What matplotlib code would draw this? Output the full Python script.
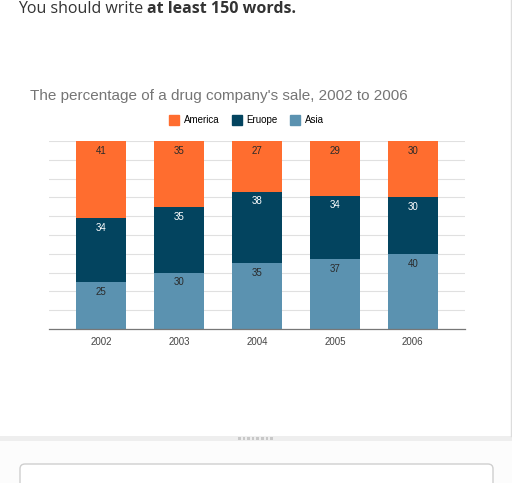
import matplotlib.pyplot as plt
import numpy as np
from matplotlib.patches import Rectangle, FancyBboxPatch
from matplotlib.lines import Line2D

years = ['2002', '2003', '2004', '2005', '2006']
asia = [25, 30, 35, 37, 40]
europe = [34, 35, 38, 34, 30]
america = [41, 35, 27, 29, 30]

c_america = '#ff6d2f'
c_europe = '#03445f'
c_asia = '#5b92b0'

W, H = 512, 483
fig = plt.figure(figsize=(W / 100, H / 100), dpi=100)
fig.patch.set_facecolor('white')

def fx(px):
    return px / W

def fy(py):
    return 1 - py / H

# page header, normal + bold parts
t1 = fig.text(fx(18), fy(12.7), 'You should write ', fontsize=11.5, family='Open Sans',
              color='#333333', va='baseline', ha='left')
fig.canvas.draw()
bb = t1.get_window_extent()
fig.text(bb.x1 / W, fy(12.7), 'at least 150 words.', fontsize=11.5, family='Open Sans',
         weight='bold', color='#333333', va='baseline', ha='left')

# chart title
fig.text(fx(30), fy(96), "The percentage of a drug company's sale, 2002 to 2006",
         fontsize=11, family='Liberation Sans', color='#757575', va='center', ha='left')

ax = fig.add_axes([fx(49), fy(329), fx(465) - fx(49), (329 - 141) / H])
x = np.arange(len(years))
w = 0.64
ax.bar(x, asia, w, color=c_asia, zorder=2)
ax.bar(x, europe, w, bottom=asia, color=c_europe, zorder=2)
bottom3 = np.array(asia) + np.array(europe)
ax.bar(x, america, w, bottom=bottom3, color=c_america, zorder=2)

tops_asia = np.array(asia)
tops_eu = bottom3
tops_am = bottom3 + np.array(america)
lab = dict(textcoords='offset points', ha='center', va='center', fontsize=7, family='Liberation Sans')
for i in range(len(years)):
    ax.annotate(str(asia[i]), (x[i], tops_asia[i]), xytext=(0, -7), color='#2a2a2a', **lab)
    ax.annotate(str(europe[i]), (x[i], tops_eu[i]), xytext=(0, -7), color='#ffffff', **lab)
    ax.annotate(str(america[i]), (x[i], tops_am[i]), xytext=(0, -7), color='#2a2a2a', **lab)

ax.set_xlim(-0.67, 4.67)
ax.set_ylim(0, 100)
ax.set_yticks(np.arange(0, 101, 10))
ax.yaxis.grid(True, color='#e0e0e0', linewidth=0.8, zorder=0)
ax.set_yticklabels([])
ax.tick_params(axis='y', length=0)
ax.set_xticks(x)
ax.set_xticklabels(years, fontsize=7, color='#444444', family='Liberation Sans')
ax.tick_params(axis='x', length=0, pad=5.5)
for s in ['top', 'right', 'left']:
    ax.spines[s].set_visible(False)
ax.spines['bottom'].set_color('#777777')
ax.spines['bottom'].set_linewidth(0.9)
ax.spines['bottom'].set_zorder(3)

handles = [Line2D([], [], marker='s', linestyle='', markersize=6.5, color=c) for c in (c_america, c_europe, c_asia)]
fig.legend(handles, ['America', 'Eruope', 'Asia'], loc='center', bbox_to_anchor=(fx(247), fy(120)),
           ncol=3, frameon=False, prop={'family': 'Liberation Sans', 'size': 7},
           handletextpad=0.55, columnspacing=1.35, handlelength=0.9)

# page chrome below the chart
fig.add_artist(Line2D([fx(511), fx(511)], [fy(436), 1], color='#dddddd', linewidth=1))
fig.add_artist(Rectangle((0, fy(441)), 1, (441 - 436) / H, color='#eeeeee', lw=0))
fig.add_artist(Rectangle((0, 0), 1, fy(441), color='#fcfcfc', lw=0))
for k in range(8):
    fig.add_artist(Rectangle((fx(238 + k * 4.6), fy(439.5)), fx(2.5), 2.5 / H, color='#c8c8c8', lw=0))
fig.add_artist(FancyBboxPatch((fx(20), fy(500)), fx(473), (500 - 464) / H,
                              boxstyle='round,pad=0,rounding_size=0.01', fc='white', ec='#cfcfcf', lw=1))

fig.savefig('out.png', dpi=100)
